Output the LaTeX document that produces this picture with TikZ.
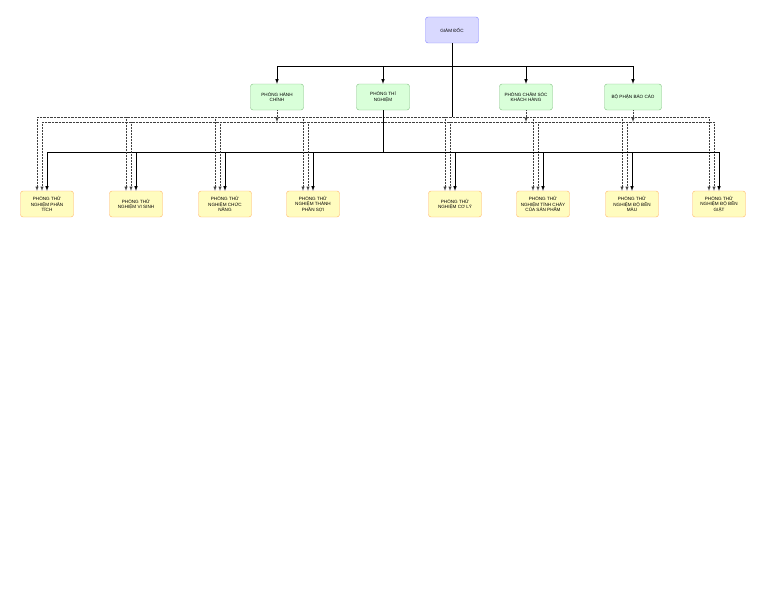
\documentclass[tikz,border=0pt]{standalone}
\usepackage{fontspec}
\setmainfont{Liberation Sans}
\begin{document}
\begin{tikzpicture}[x=1pt,y=-1pt,
 box/.style={draw,rounded corners=2.5pt,minimum height=26pt,align=center,font=\fontsize{4.6}{5.4}\selectfont,inner sep=1pt},
 top/.style={box,fill=blue!15,draw=blue!50,minimum width=53pt},
 mid/.style={box,fill=green!15,draw=green!50!black!50,minimum width=53pt},
 low/.style={box,fill=yellow!25,draw=orange!60,minimum width=53pt},
 sol/.style={draw,-latex,line width=0.6pt},
 dot/.style={draw,-latex,densely dotted,line width=0.5pt,gray!50!black}]
\useasboundingbox (0,0) rectangle (768,594);
\node[top] (g) at (452,30) {GIÁM ĐỐC};
\node[mid] (m1) at (277,97) {PHÒNG HÀNH\\CHÍNH};
\node[mid] (m2) at (383,97) {PHÒNG THÍ\\NGHIỆM};
\node[mid] (m3) at (526,97) {PHÒNG CHĂM SÓC\\KHÁCH HÀNG};
\node[mid,minimum width=57pt] (m4) at (633,97) {BỘ PHẬN BÁO CÁO};
\foreach \n/\x/\t in {1/47/{PHÒNG THỬ\\NGHIỆM PHÂN\\TÍCH},2/136/{PHÒNG THỬ\\NGHIỆM VI SINH},3/225/{PHÒNG THỬ\\NGHIỆM CHỨC\\NĂNG},4/313/{PHÒNG THỬ\\NGHIỆM THÀNH\\PHẦN SỢI},5/455/{PHÒNG THỬ\\NGHIỆM CƠ LÝ},6/543/{PHÒNG THỬ\\NGHIỆM TÍNH CHÁY\\CỦA SẢN PHẨM},7/632/{PHÒNG THỬ\\NGHIỆM ĐỘ BỀN\\MÀU},8/719/{PHÒNG THỬ\\NGHIỆM ĐỘ BỀN\\GIẶT}}
 {\node[low] (l\n) at (\x,204) {\t};}
% top level
\foreach \m in {m1,m2,m3,m4} \draw[sol] (g.south) |- (452,66) -| (\m.north);
\draw[line width=0.6pt] (g.south) -- (452,117);
% dotted lines
\draw[densely dotted,gray!50!black] (37,117) -- (708,117);
\draw[densely dotted,gray!50!black] (42,122) -- (713,122);
\foreach \m in {m1,m3,m4} \draw[dot] (\m.south) -- (\m.south |- 0,122);
\foreach \n in {1,...,8}{
 \draw[dot] ([xshift=-10pt]l\n.north |- 0,117) -- ([xshift=-10pt]l\n.north);
 \draw[dot] ([xshift=-5pt]l\n.north |- 0,122) -- ([xshift=-5pt]l\n.north);
 \draw[sol] (m2.south) |- (383,152) -| (l\n.north);
}
\end{tikzpicture}
\end{document}
